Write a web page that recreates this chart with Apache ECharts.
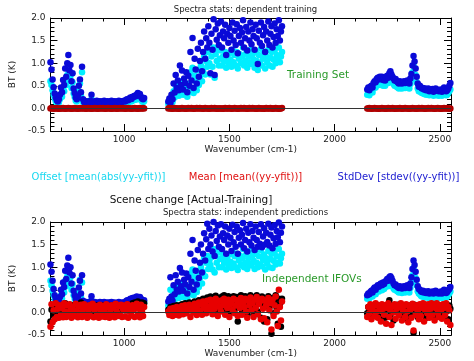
<!DOCTYPE html>
<html><head><meta charset="utf-8">
<script src="https://cdn.jsdelivr.net/npm/echarts@6/dist/echarts.min.js"></script>
<style>html,body{margin:0;padding:0;background:#fff}#c{width:474px;height:361px}</style>
</head><body><div id="c"></div>
<script>
// ---- channel wavenumbers (cm-1), three bands ----
const wn1 = [650,655,660,665,670,675,680,685,690,695,700,705,710,715,720,725,730,735,740,745,750,755,760,765,770,775,780,785,790,795,800,805,810,815,820,825,830,835,840,845,850,855,860,865,870,875,880,885,890,895,900,905,910,915,920,925,930,935,940,945,950,955,960,965,970,975,980,985,990,995,1000,1005,1010,1015,1020,1025,1030,1035,1040,1045,1050,1055,1060,1065,1070,1075,1080,1085,1090,1095];
const wn2 = [1210,1215,1220,1225,1230,1235,1240,1245,1250,1255,1260,1265,1270,1275,1280,1285,1290,1295,1300,1305,1310,1315,1320,1325,1330,1335,1340,1345,1350,1355,1360,1365,1370,1375,1380,1385,1390,1395,1400,1405,1410,1415,1420,1425,1430,1435,1440,1445,1450,1455,1460,1465,1470,1475,1480,1485,1490,1495,1500,1505,1510,1515,1520,1525,1530,1535,1540,1545,1550,1555,1560,1565,1570,1575,1580,1585,1590,1595,1600,1605,1610,1615,1620,1625,1630,1635,1640,1645,1650,1655,1660,1665,1670,1675,1680,1685,1690,1695,1700,1705,1710,1715,1720,1725,1730,1735,1740,1745,1750];
const wn3 = [2155,2160,2165,2170,2175,2180,2185,2190,2195,2200,2205,2210,2215,2220,2225,2230,2235,2240,2245,2250,2255,2260,2265,2270,2275,2280,2285,2290,2295,2300,2305,2310,2315,2320,2325,2330,2335,2340,2345,2350,2355,2360,2365,2370,2375,2380,2385,2390,2395,2400,2405,2410,2415,2420,2425,2430,2435,2440,2445,2450,2455,2460,2465,2470,2475,2480,2485,2490,2495,2500,2505,2510,2515,2520,2525,2530,2535,2540,2545,2550];

// ---- TOP panel: dependent training ----
const topStd1 = [1.02,0.86,0.64,0.47,0.33,0.24,0.18,0.15,0.2,0.3, 0.46,0.36,0.63,0.52,0.88,0.7,1.0,1.18,0.84,0.96, 0.6,0.78,0.44,0.34,0.24,0.2,0.28,0.5,0.64,0.36, 0.92,0.2,0.14,0.12,0.16,0.13,0.15,0.12,0.17,0.3, 0.14,0.12,0.16,0.13,0.17,0.12,0.14,0.16,0.12,0.15, 0.13,0.17,0.12,0.14,0.16,0.12,0.15,0.13,0.17,0.12, 0.14,0.16,0.13,0.15,0.12,0.17,0.14,0.13,0.16,0.15, 0.17,0.15,0.19,0.2,0.18,0.22,0.24,0.21,0.26,0.25, 0.28,0.27,0.3,0.34,0.29,0.32,0.26,0.22,0.2,0.23];
const topOff1 = [0.6,0.52,0.4,0.3,0.22,0.16,0.12,0.1,0.13,0.2, 0.32,0.26,0.45,0.38,0.64,0.52,0.74,0.86,0.62,0.72, 0.45,0.58,0.33,0.25,0.17,0.15,0.21,0.38,0.55,0.28, 0.8,0.14,0.1,0.08,0.11,0.09,0.1,0.08,0.12,0.2, 0.1,0.08,0.11,0.09,0.12,0.08,0.1,0.11,0.08,0.1, 0.09,0.12,0.08,0.1,0.11,0.08,0.1,0.09,0.12,0.08, 0.1,0.11,0.09,0.1,0.08,0.12,0.1,0.09,0.11,0.1, 0.12,0.1,0.14,0.15,0.13,0.16,0.18,0.15,0.19,0.18, 0.2,0.19,0.22,0.25,0.21,0.23,0.19,0.16,0.14,0.16];
const topMean1 = [0,0.01,0,-0.01,0,0.01,0,0,-0.01,0, 0,0,0.01,0,-0.01,0,0,0.01,0,0, -0.01,0,0,0.01,0,0,-0.01,0,0.01,0, 0,0.01,0,0,-0.01,0,0.01,0,0,-0.01, 0,0,0.01,0,0,-0.01,0,0.01,0,0, 0.01,0,-0.01,0,0,0.01,0,0,-0.01,0, 0,0.01,0,-0.01,0,0,0.01,0,0,0.01, 0,-0.01,0,0,0.01,0,0,-0.01,0,0, 0.01,0,0,-0.01,0,0.01,0,0,0.01,0];

const topStd2 = [0.15,0.22,0.12,0.3,0.2,0.55,0.35,0.74,0.45,0.62, 0.4,0.95,0.52,0.84,0.42,0.66,0.56,0.8,0.36,0.72, 0.5,1.25,0.62,1.56,0.45,1.1,0.86,0.55,1.32,0.7, 1.05,1.45,0.82,1.25,1.7,1.1,1.55,1.35,1.82,1.45, 0.78,1.65,1.3,1.97,0.74,1.75,1.52,1.88,1.4,1.62, 1.92,1.35,1.7,1.55,1.85,1.18,1.65,1.45,1.78,1.6, 1.3,1.9,1.5,1.72,1.4,1.86,1.22,1.6,1.78,1.45, 1.68,1.95,1.35,1.55,1.8,1.28,1.7,1.5,1.9,1.42, 1.75,1.6,1.3,1.85,1.55,0.98,1.72,1.45,1.9,1.38, 1.62,1.8,1.25,1.7,1.5,1.92,1.4,1.65,1.82,1.35, 1.58,1.88,1.45,1.75,1.6,1.95,1.5,1.7,1.82];
const topOff2 = [0.1,0.15,0.08,0.2,0.14,0.38,0.24,0.5,0.3,0.42, 0.28,0.6,0.36,0.55,0.3,0.45,0.4,0.55,0.26,0.5, 0.36,0.8,0.45,0.9,0.34,0.72,0.6,0.4,0.85,0.52, 0.7,0.95,0.6,0.85,1.15,0.75,1.05,0.92,1.25,1.0, 0.75,1.15,0.92,1.35,0.68,1.2,1.05,1.3,0.95,1.1, 1.28,0.95,1.15,1.05,1.25,0.9,1.12,1.0,1.22,1.08, 0.92,1.3,1.02,1.18,0.95,1.25,0.88,1.1,1.2,1.0, 1.15,1.35,0.95,1.05,1.22,0.9,1.15,1.02,1.3,0.98, 1.2,1.08,0.9,1.25,1.05,0.85,1.18,1.0,1.32,0.95, 1.1,1.22,0.88,1.15,1.02,1.3,0.95,1.12,1.25,0.92, 1.08,1.28,1.0,1.18,1.05,1.35,1.02,1.15,1.25];
const topMean2 = [0,0.01,0,0,-0.01,0,0.01,0,0,0, -0.01,0,0,0.01,0,0,0,-0.01,0,0.01, 0,0,0.01,0,-0.01,0,0,0.01,0,0, 0.01,0,0,-0.01,0,0.01,0,0,0,-0.01, 0,0.01,0,0,0.01,0,-0.01,0,0,0, 0,0,-0.01,0,0.01,0,0,0,0.01,0, -0.01,0,0,0.01,0,0,-0.01,0,0,0.01, 0,0,0.01,0,0,-0.01,0,0.01,0,0, 0.01,0,0,0,-0.01,0,0.01,0,0,0, 0,-0.01,0,0.01,0,0,0,0.01,0,-0.01, 0,0,0.01,0,0,-0.01,0,0,0.01];

const topStd3 = [0.42,0.46,0.4,0.48,0.5,0.46,0.56,0.6,0.58,0.65, 0.68,0.64,0.7,0.66,0.7,0.63,0.67,0.62,0.7,0.72, 0.68,0.78,0.82,0.75,0.7,0.66,0.62,0.65,0.6,0.58, 0.55,0.6,0.57,0.55,0.58,0.6,0.56,0.58,0.62,0.6, 0.55,0.66,0.76,0.95,1.16,1.04,0.88,0.7,0.55,0.48, 0.5,0.46,0.44,0.45,0.42,0.44,0.4,0.42,0.44,0.38, 0.41,0.4,0.43,0.37,0.4,0.44,0.39,0.41,0.38,0.4, 0.42,0.37,0.4,0.46,0.42,0.38,0.4,0.44,0.5,0.56];
const topOff3 = [0.3,0.34,0.29,0.36,0.38,0.35,0.44,0.48,0.46,0.52, 0.55,0.52,0.57,0.53,0.57,0.5,0.54,0.5,0.57,0.6, 0.56,0.64,0.68,0.62,0.58,0.54,0.5,0.53,0.48,0.46, 0.44,0.48,0.45,0.44,0.46,0.48,0.45,0.46,0.5,0.48, 0.44,0.54,0.64,0.8,0.95,0.88,0.74,0.58,0.44,0.38, 0.4,0.36,0.34,0.35,0.32,0.34,0.3,0.32,0.34,0.29, 0.31,0.3,0.33,0.28,0.3,0.34,0.29,0.31,0.28,0.3, 0.32,0.28,0.3,0.35,0.32,0.29,0.3,0.34,0.38,0.42];
const topMean3 = [0,0,0.01,0,-0.01,0,0,0.01,0,0, 0,-0.01,0,0,0.01,0,0,0,-0.01,0, 0.01,0,0,0,0.01,0,-0.01,0,0,0, 0,0.01,0,-0.01,0,0,0.01,0,0,0, -0.01,0,0,0.01,0,0,0,-0.01,0,0.01, 0,0,0.01,0,0,-0.01,0,0,0.01,0, 0,0.01,0,0,-0.01,0,0,0.01,0,0, -0.01,0,0,0.01,0,0,0.01,0,-0.01,0];

// ---- BOTTOM panel: independent predictions ----
const botStd1 = [1.06,0.9,0.7,0.52,0.38,0.3,0.24,0.22,0.26,0.34, 0.5,0.4,0.66,0.56,0.92,0.74,1.04,1.21,0.88,1.0, 0.64,0.82,0.48,0.38,0.3,0.26,0.34,0.55,0.7,0.42, 0.82,0.26,0.21,0.2,0.23,0.2,0.22,0.19,0.24,0.36, 0.21,0.2,0.23,0.19,0.22,0.2,0.21,0.23,0.19,0.22, 0.2,0.23,0.19,0.21,0.22,0.2,0.22,0.19,0.23,0.2, 0.21,0.22,0.2,0.21,0.19,0.23,0.2,0.2,0.22,0.21, 0.22,0.2,0.25,0.27,0.24,0.28,0.3,0.26,0.32,0.29, 0.33,0.3,0.35,0.32,0.29,0.34,0.3,0.26,0.25,0.27];
const botOff1 = [0.7,0.6,0.48,0.38,0.28,0.22,0.18,0.17,0.2,0.26, 0.38,0.31,0.5,0.44,0.7,0.58,0.8,0.92,0.68,0.78, 0.5,0.63,0.38,0.3,0.23,0.2,0.27,0.43,0.72,0.34, 0.66,0.2,0.17,0.16,0.18,0.16,0.17,0.15,0.19,0.27, 0.17,0.16,0.18,0.15,0.17,0.16,0.17,0.18,0.15,0.17, 0.16,0.18,0.15,0.17,0.17,0.16,0.17,0.15,0.18,0.16, 0.17,0.17,0.16,0.17,0.15,0.18,0.16,0.16,0.17,0.17, 0.18,0.16,0.2,0.22,0.19,0.23,0.24,0.21,0.26,0.24, 0.27,0.25,0.29,0.27,0.24,0.28,0.25,0.21,0.2,0.22];
const botMean1 = [-0.32,0.18,-0.22,0.05,-0.15,0.2,-0.1,0.08,-0.12,0.16, -0.05,0.1,-0.11,0.2,0.02,-0.1,0.15,-0.06,0.18,0.04, -0.12,0.12,0.0,-0.08,0.19,0.05,-0.11,0.14,-0.02,0.17, -0.1,0.07,0.18,-0.06,0.12,-0.12,0.03,0.16,-0.08,0.1, 0.19,-0.11,0.05,0.14,-0.07,0.09,-0.12,0.17,0.01,-0.09, 0.13,0.04,-0.1,0.18,-0.04,0.11,-0.12,0.06,0.16,-0.07, 0.1,-0.11,0.19,0.02,-0.08,0.14,-0.05,0.17,-0.1,0.07, 0.15,-0.09,0.04,0.18,-0.12,0.1,0.01,-0.07,0.16,0.06, -0.1,0.13,0.19,-0.05,0.08,-0.11,0.17,0.03,-0.08,0.12];
const botScene1 = [-0.2,0.06,0.14,-0.05,0.1,0.02,0.12,-0.04,0.06,0.15, 0.03,0.16,0.0,0.1,0.2,0.04,-0.03,0.14,0.08,0.17, 0.02,0.12,0.15,0.06,-0.02,0.1,0.14,0.04,0.09,0.22, 0.12,0.04,0.1,0.15,0.02,0.12,0.14,0.06,0.13,0.08, 0.03,0.14,0.1,0.05,0.15,0.07,0.12,0.02,0.14,0.09, 0.15,0.05,0.11,0.03,0.14,0.08,0.13,0.04,0.15,0.07, 0.12,0.04,0.14,0.09,0.02,0.13,0.06,0.15,0.08,0.12, 0.05,0.14,0.1,0.17,0.04,0.13,0.15,0.07,0.2,0.11, 0.22,0.09,0.16,0.24,0.12,0.18,0.06,0.22,0.15,0.2];

const botStd2 = [0.24,0.3,0.78,0.35,0.26,0.6,0.4,0.82,0.5,0.68, 0.46,0.98,0.58,0.88,0.48,0.72,0.62,0.86,0.42,0.78, 0.56,1.3,0.68,1.6,0.5,1.15,0.92,0.62,1.38,0.76, 1.1,1.5,0.88,1.3,1.75,1.15,1.62,1.96,1.4,1.85, 1.5,1.7,1.35,2.0,1.25,1.8,1.58,1.92,1.45,1.68, 1.95,1.4,1.75,1.6,1.9,1.3,1.7,1.5,1.85,1.65, 1.36,1.94,1.55,1.78,1.45,1.9,1.3,1.65,1.82,1.5, 1.72,1.98,1.42,1.6,1.85,1.35,1.76,1.55,1.95,1.48, 1.8,1.65,1.38,1.9,1.6,1.45,1.78,1.52,1.95,1.44, 1.68,1.86,1.5,1.76,1.56,1.96,1.48,1.72,1.88,1.42, 1.64,1.93,1.52,1.8,1.66,1.99,1.55,1.76,1.9];
const botOff2 = [0.15,0.2,0.5,0.25,0.18,0.42,0.28,0.55,0.34,0.48, 0.32,0.65,0.4,0.6,0.34,0.5,0.45,0.6,0.3,0.55, 0.4,0.86,0.5,0.95,0.38,0.78,0.65,0.45,0.9,0.56, 0.76,1.0,0.64,0.9,1.2,0.8,1.1,1.25,0.96,1.15, 1.05,1.22,0.95,1.4,0.88,1.25,1.1,1.35,1.0,1.18, 1.32,1.0,1.2,1.1,1.3,0.95,1.18,1.05,1.28,1.12, 0.98,1.36,1.08,1.24,1.0,1.3,0.94,1.15,1.26,1.05, 1.2,1.4,1.0,1.1,1.28,0.96,1.2,1.08,1.36,1.04, 1.26,1.14,0.96,1.3,1.1,1.0,1.24,1.06,1.38,1.02, 1.16,1.28,0.95,1.2,1.08,1.36,1.0,1.18,1.3,0.98, 1.14,1.34,1.06,1.24,1.1,1.4,1.08,1.2,1.3];
const botMean2 = [0.02,-0.06,0.08,0.0,-0.08,0.1,0.03,-0.05,0.12,0.04, -0.07,0.1,0.02,0.14,-0.04,0.08,0.16,-0.02,0.11,0.05, 0.17,-0.1,0.08,0.14,0.0,0.19,0.06,-0.06,0.15,0.22, 0.04,0.18,-0.05,0.24,0.1,0.2,-0.02,0.26,0.12,0.05, 0.28,0.15,-0.04,0.22,0.08,0.3,0.18,-0.08,0.25,0.12, 0.02,0.27,0.16,0.3,-0.05,0.2,0.1,0.28,-0.1,0.18, 0.25,0.06,0.3,-0.02,0.15,0.27,-0.08,0.2,0.1,0.32, -0.05,0.22,0.12,0.3,0.02,-0.12,0.26,0.16,0.33,0.05, 0.2,-0.1,0.28,0.1,0.34,-0.04,0.18,0.24,-0.15,0.3, 0.08,-0.13,0.26,0.15,-0.22,0.32,0.05,0.2,-0.38,0.28, -0.08,0.16,0.35,0.02,-0.3,0.5,0.12,-0.18,0.24];
const botScene2 = [0.06,0.0,0.12,0.04,-0.04,0.14,0.08,0.02,0.16,0.1, 0.0,0.15,0.08,0.18,0.03,0.14,0.2,0.06,0.17,0.12, 0.22,0.05,0.15,0.2,0.1,0.24,0.14,0.04,0.22,0.27, 0.12,0.25,0.06,0.3,0.18,0.28,0.08,0.33,0.2,0.14, 0.35,0.22,0.06,0.3,0.16,0.37,0.26,0.02,0.32,0.2, 0.1,0.35,0.24,0.38,0.04,0.3,0.18,0.36,-0.02,0.28, 0.33,0.14,0.36,0.06,0.24,0.34,-0.2,0.28,0.18,0.38, 0.04,0.3,0.2,0.36,0.1,-0.06,0.32,0.22,0.38,0.12, 0.28,-0.04,0.34,0.16,0.38,0.02,0.25,0.3,-0.12,0.35, 0.14,-0.2,0.3,0.22,-0.15,0.36,0.1,0.26,-0.47,0.32, -0.02,0.22,0.38,0.08,-0.25,0.3,0.18,-0.32,0.3];

const botStd3 = [0.38,0.42,0.4,0.45,0.48,0.44,0.52,0.55,0.5,0.56, 0.6,0.57,0.62,0.64,0.6,0.66,0.63,0.68,0.7,0.74, 0.7,0.78,0.8,0.76,0.7,0.64,0.6,0.62,0.58,0.56, 0.54,0.58,0.55,0.53,0.56,0.58,0.54,0.57,0.6,0.58, 0.54,0.64,0.78,0.96,1.15,1.05,0.9,0.72,0.58,0.52, 0.5,0.47,0.45,0.48,0.44,0.46,0.43,0.45,0.47,0.42, 0.44,0.43,0.46,0.42,0.44,0.48,0.43,0.45,0.42,0.44, 0.46,0.42,0.44,0.5,0.46,0.43,0.45,0.49,0.52,0.56];
const botOff3 = [0.3,0.33,0.31,0.35,0.38,0.35,0.42,0.44,0.4,0.46, 0.49,0.46,0.51,0.53,0.49,0.55,0.52,0.56,0.58,0.62, 0.58,0.66,0.68,0.64,0.58,0.53,0.5,0.52,0.48,0.46, 0.44,0.48,0.45,0.43,0.46,0.48,0.44,0.47,0.5,0.48, 0.44,0.54,0.66,0.82,0.98,0.9,0.76,0.6,0.47,0.42, 0.4,0.37,0.35,0.38,0.34,0.36,0.33,0.35,0.37,0.32, 0.34,0.33,0.36,0.32,0.34,0.38,0.33,0.35,0.32,0.34, 0.36,0.32,0.34,0.4,0.36,0.33,0.35,0.39,0.42,0.46];
const botMean3 = [-0.1,0.12,-0.02,0.18,-0.15,0.06,0.15,-0.08,0.2,0.02, -0.12,0.14,0.04,-0.2,0.18,0.08,-0.05,0.16,-0.25,0.1, 0.2,-0.1,0.05,-0.28,0.14,0.0,0.18,-0.14,0.08,0.16, -0.06,0.12,0.2,-0.18,0.04,0.15,-0.1,0.18,0.02,-0.22, 0.14,0.06,-0.12,0.19,-0.4,0.1,-0.05,0.16,0.03,-0.15, 0.18,-0.08,0.1,0.2,-0.2,0.06,0.15,-0.02,0.18,-0.12, 0.08,0.2,-0.05,0.14,-0.18,0.1,0.2,0.0,-0.1,0.16, 0.05,-0.14,0.18,0.1,-0.06,0.2,-0.2,0.12,0.04,-0.28];
const botScene3 = [-0.02,0.12,0.05,-0.08,0.08,0.15,-0.04,0.1,0.06,0.14, 0.02,0.15,-0.1,0.08,0.12,0.04,0.14,-0.12,0.1,0.16, 0.06,0.27,-0.05,0.1,0.15,-0.18,0.08,0.14,0.04,0.17, 0.08,-0.02,0.12,0.16,-0.08,0.1,0.06,0.15,-0.14,0.08, 0.15,-0.06,0.12,0.06,-0.45,0.17,0.04,0.1,-0.1,0.14, 0.05,0.15,-0.05,0.1,0.08,0.17,-0.12,0.12,0.05,0.15, 0.12,-0.02,0.15,0.06,0.1,-0.1,0.14,0.17,0.04,0.08, 0.15,0.06,-0.06,0.17,0.1,0.02,0.12,-0.15,0.15,0.08];

// ---- axis ticks ----
const xMajor = [1000,1500,2000,2500];
const xMinor = [700,800,900,1100,1200,1300,1400,1600,1700,1800,1900,2100,2200,2300,2400];

// ---- build ----
function pts(xs, ys){ const n = Math.min(xs.length, ys.length); const o = []; for (let i=0;i<n;i++) o.push([xs[i], ys[i]]); return o; }
function bands(a,b,c){ return pts(wn1,a).concat(pts(wn2,b), pts(wn3,c)); }

const FONT = 'DejaVu Sans';
const X_MIN = 650, X_MAX = 2553;
const C_OFF = '#00eeff', C_STD = '#0a0ad8', C_MEAN = '#e80000', C_SCENE = '#000000';
const AX = {show:true, onZero:false, lineStyle:{color:'#000', width:1}};
const TK = {color:'#000', width:1};

function xAxes(g){
  const base = {gridIndex:g, type:'value', min:X_MIN, max:X_MAX, axisLine:AX, splitLine:{show:false}};
  return [
    Object.assign({}, base, {position:'bottom',
      axisTick:{show:true, inside:true, length:7, customValues:xMajor, lineStyle:TK},
      axisLabel:{show:true, customValues:xMajor, fontSize:9, fontFamily:FONT, color:'#222', margin:4, formatter: v => String(v)},
      name:'Wavenumber (cm-1)', nameLocation:'middle', nameGap:13,
      nameTextStyle:{fontSize:9, fontFamily:FONT, color:'#222'}}),
    Object.assign({}, base, {position:'bottom',
      axisTick:{show:true, inside:true, length:3.5, customValues:xMinor, lineStyle:TK},
      axisLabel:{show:false}}),
    Object.assign({}, base, {position:'top',
      axisTick:{show:true, inside:true, length:7, customValues:xMajor, lineStyle:TK},
      axisLabel:{show:false}}),
    Object.assign({}, base, {position:'top',
      axisTick:{show:true, inside:true, length:3.5, customValues:xMinor, lineStyle:TK},
      axisLabel:{show:false}})
  ];
}
function yAxes(g){
  const base = {gridIndex:g, type:'value', min:-0.5, max:2.0, interval:0.5,
    splitLine:{show:false}, axisLine:AX,
    axisTick:{show:true, inside:true, length:7, lineStyle:TK},
    minorTick:{show:true, splitNumber:5, length:4, lineStyle:TK}};
  return [
    Object.assign({}, base, {position:'left',
      axisLabel:{fontSize:9, fontFamily:FONT, color:'#222', margin:5, formatter: v => v.toFixed(1)},
      name:'BT (K)', nameLocation:'middle', nameGap:24,
      nameTextStyle:{fontSize:9, fontFamily:FONT, color:'#222'}}),
    Object.assign({}, base, {position:'right', axisLabel:{show:false}})
  ];
}
function sc(name, data, color, xi, yi, extra){
  return Object.assign({name, type:'scatter', data, xAxisIndex:xi, yAxisIndex:yi,
    symbol:'circle', symbolSize:6.5, itemStyle:{color, opacity:1}, silent:true, clip:true}, extra||{});
}
const zeroLine = {silent:true, symbol:'none', label:{show:false},
  lineStyle:{color:'#333', width:1, type:'solid'}, data:[{yAxis:0}]};

function txt(text, x, y, size, color, align){
  return {type:'text', x, y, silent:true,
    style:{text, font: size + 'px "' + FONT + '"', fill:color, align: align||'center', verticalAlign:'middle'}};
}

const chart = echarts.init(document.getElementById('c'), null, {renderer:'canvas'});
chart.setOption({
  animation:false,
  backgroundColor:'#fff',
  grid:[
    {left:40, top:18, width:411, height:113, show:false},
    {left:40, top:222, width:411, height:113, show:false}
  ],
  xAxis: xAxes(0).concat(xAxes(1)),
  yAxis: yAxes(0).concat(yAxes(1)),
  series:[
    sc('Offset', bands(topOff1, topOff2, topOff3), C_OFF, 0, 0, {markLine: zeroLine}),
    sc('StdDev', bands(topStd1, topStd2, topStd3), C_STD, 0, 0),
    sc('Mean', bands(topMean1, topMean2, topMean3), '#b00000', 0, 0),
    sc('Offset', bands(botOff1, botOff2, botOff3), C_OFF, 4, 2),
    sc('StdDev', bands(botStd1, botStd2, botStd3), C_STD, 4, 2),
    sc('Scene change', bands(botScene1, botScene2, botScene3), C_SCENE, 4, 2),
    sc('Mean', bands(botMean1, botMean2, botMean3), C_MEAN, 4, 2, {markLine: zeroLine})
  ],
  graphic:[
    txt('Spectra stats: dependent training', 245.5, 10, 8.5, '#222'),
    txt('Offset [mean(abs(yy-yfit))]', 98.5, 177, 10, '#19d8f0'),
    txt('Mean [mean((yy-yfit))]', 245.5, 177, 10, '#e01010'),
    txt('StdDev [stdev((yy-yfit))]', 398.5, 177, 10, '#1a1ad0'),
    txt('Scene change [Actual-Training]', 191, 200, 10.5, '#111'),
    txt('Spectra stats: independent predictions', 245.5, 213, 8.5, '#222'),
    txt('Training Set', 287, 75, 10.5, '#2a9a2a', 'left'),
    txt('Independent IFOVs', 262, 279, 10.5, '#2a9a2a', 'left')
  ]
});
</script>
</body></html>
